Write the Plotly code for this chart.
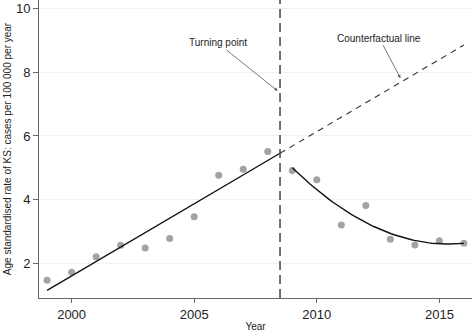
import numpy as np
import plotly.graph_objects as go

# Annual age-standardised KS rates (cases per 100 000 per year)
years_pre = [1999, 2000, 2001, 2002, 2003, 2004, 2005, 2006, 2007, 2008]
rates_pre = [1.46, 1.71, 2.20, 2.56, 2.47, 2.77, 3.46, 4.76, 4.95, 5.51]
years_post = [2009, 2010, 2011, 2012, 2013, 2014, 2015, 2016]
rates_post = [4.91, 4.62, 3.20, 3.81, 2.75, 2.57, 2.70, 2.62]

turning_year = 2008.5
x_range = [1998.67, 2016.33]
y_range = [0.9, 10.28]
y_ticks = [2, 4, 6, 8, 10]
x_ticks = [2000, 2005, 2010, 2015]

# Linear trend before the turning point, extended as the counterfactual
lin = np.polyfit(years_pre, rates_pre, 1)
x_fit_pre = np.array([years_pre[0], turning_year])
x_cf = np.array([turning_year, years_post[-1]])

# Quadratic trend after the turning point
quad = np.polyfit(years_post, rates_post, 2)
x_fit_post = np.linspace(years_post[0], years_post[-1], 60)

fig = go.Figure()

fig.add_trace(go.Scatter(
    x=years_pre + years_post, y=rates_pre + rates_post, mode="markers",
    marker=dict(color="#a3a3a3", size=7), showlegend=False))

fig.add_trace(go.Scatter(
    x=x_fit_pre, y=np.polyval(lin, x_fit_pre), mode="lines",
    line=dict(color="#111111", width=1.4), showlegend=False))

fig.add_trace(go.Scatter(
    x=x_cf, y=np.polyval(lin, x_cf), mode="lines",
    line=dict(color="#333333", width=1.1, dash="6px,5px"), showlegend=False))

fig.add_trace(go.Scatter(
    x=x_fit_post, y=np.polyval(quad, x_fit_post), mode="lines",
    line=dict(color="#111111", width=1.4), showlegend=False))

fig.add_shape(type="line", x0=turning_year, x1=turning_year, y0=0, y1=1,
              yref="paper", xref="x",
              line=dict(color="#444444", width=1.5, dash="9px,5px"))

arrow_style = dict(showarrow=True, arrowhead=2, arrowsize=0.8, arrowwidth=0.8,
                   arrowcolor="#555555", font=dict(size=10, color="#222222"),
                   xref="x", yref="y", axref="pixel", ayref="pixel")

fig.add_annotation(x=2008.4, y=7.42, text="Turning point",
                   ax=-60, ay=-48, standoff=0, **arrow_style)
fig.add_annotation(x=2013.41, y=7.82, text="Counterfactual line",
                   ax=-21, ay=-40, standoff=0, **arrow_style)

fig.update_layout(
    width=474, height=334,
    margin=dict(l=39, r=2, t=0, b=36),
    paper_bgcolor="white", plot_bgcolor="white",
    font=dict(family="Liberation Sans, Arial, sans-serif", size=13, color="#222222"),
    xaxis=dict(range=x_range, tickvals=x_ticks, showgrid=False, zeroline=False,
               showline=True, linecolor="#666666", linewidth=1,
               ticks="outside", ticklen=4, tickcolor="#666666",
               title=dict(text="Year", font=dict(size=10), standoff=2)),
    yaxis=dict(range=y_range, tickvals=y_ticks, showgrid=True,
               gridcolor="#f0f2f2", gridwidth=1, zeroline=False,
               showline=True, linecolor="#666666", linewidth=1,
               ticks="outside", ticklen=5, tickcolor="#666666",
               title=dict(text="Age standardised rate of KS: cases per 100 000 per year",
                          font=dict(size=10), standoff=2)),
)

fig.write_html("out.html")
